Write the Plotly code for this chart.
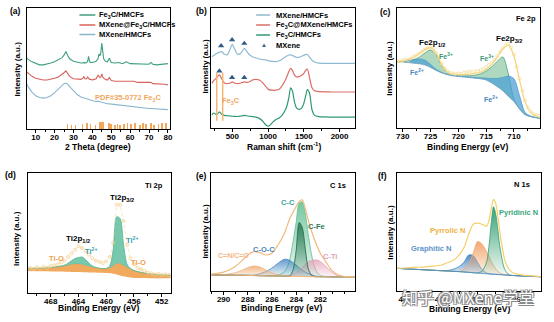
import plotly.graph_objects as go

W, H = 554, 322
FONT = "Liberation Sans, Arial, Helvetica, sans-serif"
CJK = "Noto Sans CJK SC, sans-serif"

# ---------------- (a) XRD ----------------
two_theta = [5, 6, 8, 10, 12, 14, 16, 18, 20, 22,
             24, 25, 26, 27, 28, 30, 32, 34, 35, 35.5,
             36, 37, 37.5, 38, 38.5, 39, 40, 41, 42, 43,
             43.5, 44, 44.5, 45, 45.5, 46, 47, 48, 49, 49.5,
             50, 52, 54, 56, 58, 60, 62, 64, 66, 68,
             70, 71, 72, 74, 76, 78, 80]
xrd_fe3c_hmcfs = [59, 57.5, 55.5, 54, 53, 53, 53.5, 54.5, 55.5, 57,
                  59, 61, 64, 60.5, 58, 56, 55, 54.5, 54.5, 55,
                  54.5, 55, 56, 60, 56, 55, 55, 55.5, 56, 58,
                  62, 60.5, 63, 71, 63, 58, 56, 55.5, 58.5, 56,
                  55, 54.5, 55, 54, 55.5, 54, 54, 53.5, 54, 53.5,
                  53.5, 55, 53.5, 53, 53.5, 54, 54]
xrd_mxene_fe3c_hmcfs = [47.5, 46, 43.5, 42, 41, 40.5, 40.5, 41, 42, 43,
                        45, 46.5, 48, 46, 43.5, 41.5, 41, 41, 42, 43.5,
                        41.5, 41.5, 43, 41.5, 41, 41, 40.5, 41, 41.5, 44.5,
                        43, 42.5, 43, 45.5, 43, 42, 41, 40.5, 42.5, 41,
                        40, 39.5, 39.5, 39, 39.5, 39, 39.5, 38.5, 38.5, 38,
                        38, 38.5, 37.5, 37.5, 37, 37, 36.5]
xrd_mxene_hmcfs = [38, 35, 30.5, 27.5, 26, 25.5, 26, 27.5, 30, 33,
                   36.5, 37.5, 38, 37, 35, 31.5, 28.5, 26.5, 26, 25.5,
                   25, 24.5, 24.3, 24, 23.8, 23.5, 23, 22.8, 22.5, 23,
                   23, 22.5, 22.3, 22, 21.8, 21.5, 21.3, 21, 20.8, 20.6,
                   20.5, 20, 19.7, 19.3, 19, 18.5, 18.2, 17.8, 17.5, 17.2,
                   17, 16.9, 16.8, 16.5, 16.3, 16.1, 16]
pdf_fe3c_pos = [26.7, 28.8, 31, 34.6, 37.2, 38.9, 41.6, 43.9, 44.6, 45.6,
                48.6, 49.8, 51.8, 53.3, 54.7, 56.5, 58.6, 60.5, 62.6, 65.3,
                66.7, 68.4, 70.9, 72.6, 74.9, 76.7, 78.9]
pdf_fe3c_int = [4, 3.5, 3.5, 4, 5, 4, 3.5, 5.5, 5.5, 5.5,
                5, 4.5, 3.5, 4, 3.5, 4, 5, 4, 5, 3.5,
                5, 4, 5, 3.5, 4, 5, 5]

# ---------------- (b) Raman ----------------
raman_shift = [210, 240, 280, 320, 350, 390, 430, 470, 500, 530,
               575, 620, 667, 700, 740, 780, 830, 875, 920, 970,
               1010, 1060, 1110, 1160, 1200, 1250, 1290, 1315, 1340, 1370,
               1400, 1440, 1470, 1500, 1525, 1550, 1580, 1615, 1650, 1710,
               1800, 1900, 2000, 2100, 2222]
raman_mxene_hmcfs = [59.4, 60.5, 62, 63.2, 63.6, 61.5, 61, 66, 69.7, 66,
                     61.4, 62.5, 66.4, 64, 61, 59.4, 58.3, 57.5, 57, 56.7,
                     56, 55.5, 55.3, 56, 57.5, 59.5, 60.8, 61, 60.5, 59.5,
                     58.8, 59, 59.8, 60.6, 61.2, 61.2, 59, 56.5, 55, 54,
                     53.9, 53.9, 53.9, 53.9, 53.9]
raman_fe3c_mxene_hmcfs = [37.2, 39.5, 42, 44.2, 41, 37.5, 37, 37.5, 38.5, 37.5,
                          37, 37.5, 38.5, 38, 38.5, 40, 40.5, 40, 38, 34.5,
                          32, 31.5, 31.5, 32.5, 35.5, 41, 47, 49.7, 48, 44,
                          42.5, 43, 44, 45.5, 48, 49, 42, 33.5, 31, 30.3,
                          30.1, 30, 30, 30, 30]
raman_fe3c_hmcfs = [10.8, 12.5, 11, 13.5, 11.5, 10.5, 10.2, 10, 9.8, 9.7,
                    9.6, 10, 10.5, 10.2, 9.8, 9.5, 9, 8, 6, 2.5,
                    1.5, 4.5, 7, 8.5, 11, 16, 25, 33.5, 31, 21.5,
                    16.5, 15.5, 16.5, 20.5, 26.5, 32, 29, 15, 10.5, 9.5,
                    9.2, 9, 9, 9, 9]
mxene_band_x = [343, 496, 667, 319, 496, 667]
mxene_band_y = [68.5, 73.5, 70.5, 47.5, 42, 42]
fe3c_band_x = [282, 365]

# ---------------- (c) Fe 2p ----------------
fe_be = [731, 730, 729, 728, 727, 726, 725, 724, 723, 722,
         721, 720, 719, 718, 717, 716, 715, 714, 713, 712,
         711, 710, 709, 708, 707, 706, 705.2]
fe_background = [55, 55, 54.5, 54, 53.5, 52.5, 50.5, 48, 46, 44.5,
                 43.5, 43, 42.5, 42, 41.5, 41, 40, 37.5, 34.5, 31,
                 26.5, 22, 16, 11, 9.5, 8.5, 8]
fe_2plus = [55.3, 55.6, 56.2, 57, 57.5, 56.5, 53, 49, 46.3, 44.7,
            43.7, 43.2, 42.8, 42.4, 42, 41.8, 41.5, 41.3, 41.3, 42,
            43.3, 41, 27, 13, 10, 8.8, 8.2]
fe_3plus = [55.3, 55.5, 56, 57, 59, 62.5, 65, 61, 52, 46,
            44.3, 43.7, 43.5, 43.5, 44, 45.2, 47.5, 51, 55.5, 59.2,
            45, 24, 16, 11.5, 9.6, 8.6, 8]
fe_envelope = [55.5, 56, 57, 59, 62, 65.5, 67, 62.5, 53, 47,
               45, 44.5, 44.5, 44.8, 45.5, 46.5, 49, 53, 59, 66,
               69, 60, 40, 22, 13, 10, 9]
fe_raw_be = [731, 730.5, 730, 729.5, 729, 728.5, 728, 727.5, 727, 726.5,
             726, 725.5, 725, 724.5, 724, 723.5, 723, 722.5, 722, 721.5,
             721, 720.5, 720, 719.5, 719, 718.5, 718, 717.5, 717, 716.5,
             716, 715.5, 715, 714.5, 714, 713.5, 713, 712.5, 712, 711.5,
             711, 710.5, 710, 709.5, 709, 708.5, 708, 707.5, 707, 706.5,
             706, 705.5]
fe_raw = [56, 55.5, 56.5, 57, 56.5, 58, 59.5, 60.5, 62, 63.5,
          65.5, 66.5, 67.5, 66, 62.5, 58, 53.5, 50, 47.5, 46,
          45.5, 45, 45.5, 45, 46, 46.5, 47, 46.5, 47, 47.5,
          48, 49.5, 50.5, 52.5, 54.5, 57, 60, 63.5, 66.5, 69,
          70, 67, 61, 51, 41, 31, 23, 17, 14, 12,
          10.5, 10]

# ---------------- (d) Ti 2p ----------------
ti_be = [471.3, 470, 469, 468, 467, 466, 465.5, 465, 464.5, 464,
         463.5, 463, 462.5, 462, 461, 460, 459.5, 459, 458.5, 458,
         457.5, 457, 456.5, 456, 455, 454, 453, 452, 450.7]
ti_background = [18.3, 18.2, 18.1, 18, 17.9, 17.8, 17.7, 17.6, 17.5, 17.4,
                 17.3, 17.2, 17.1, 17, 16.8, 16.6, 16.4, 16, 15.4, 14.6,
                 13.9, 13.3, 12.9, 12.6, 12.4, 12.3, 12.2, 12.2, 12.2]
ti_o = [20.3, 20.4, 20.6, 21, 21.6, 22.5, 23.2, 23.8, 24.2, 24.2,
        23.8, 23, 22.2, 21.4, 20.5, 20.3, 21, 22.5, 24.7, 24.3,
        23, 21.5, 19.8, 18.5, 17, 16, 15.3, 15, 14.7]
ti_2plus = [20.6, 20.7, 20.9, 21.3, 22, 23.3, 24.8, 26.8, 28.7, 29.6,
            30, 28, 25, 22.6, 20.7, 20.5, 22.5, 36, 63.5, 62,
            40, 24, 20.5, 18.8, 17.3, 16.2, 15.5, 15.1, 14.8]
ti_raw_be = [471, 470.5, 470, 469.5, 469, 468.5, 468, 467.5, 467, 466.5,
             466, 465.5, 465, 464.5, 464, 463.5, 463, 462.5, 462, 461.5,
             461, 460.5, 460, 459.5, 459, 458.5, 458, 457.5, 457, 456.5,
             456, 455.5, 455, 454.5, 454, 453.5, 453, 452.5, 452, 451.5,
             451]
ti_raw = [21, 20, 21.5, 20.5, 22, 21, 22.5, 23, 24, 25.5,
          27, 30, 33, 36, 39, 37.5, 35, 32, 29, 27,
          26, 25, 26.5, 30, 42, 73.5, 73.5, 60, 40, 29,
          24, 21, 20, 18.5, 17, 16.5, 15.5, 16, 15, 15.5,
          15]

# ---------------- (e) C 1s ----------------
c_be = [291, 290.5, 290, 289.5, 289, 288.5, 288, 287.5, 287, 286.5,
        286, 285.5, 285, 284.75, 284.5, 284.25, 284, 283.75, 283.5, 283.25,
        283, 282.75, 282.5, 282.25, 282, 281.5, 281, 280.5, 280, 279.5,
        279.1]
c_background = [13.5, 13.5, 13.4, 13.4, 13.3, 13.3, 13.2, 13.1, 13.0, 12.9,
                12.8, 12.7, 12.6, 12.6, 12.5, 12.5, 12.4, 12.4, 12.3, 12.3,
                12.2, 12.2, 12.2, 12.1, 12.1, 12.1, 12.0, 12.0, 12.0, 12.0,
                12.0]
c_cn_co = [13.6, 13.7, 13.9, 14.5, 15.6, 17.5, 19.8, 21.2, 20.3, 17.8,
           15.4, 13.8, 13.0, 12.7, 12.5, 12.5, 12.4, 12.4, 12.3, 12.3,
           12.2, 12.2, 12.2, 12.1, 12.1, 12.1, 12.0, 12.0, 12.0, 12.0,
           12.0]
c_coc = [13.5, 13.5, 13.4, 13.4, 13.3, 13.3, 13.3, 13.5, 14.5, 16.5,
         19.5, 23.5, 26.9, 26.8, 25.8, 24, 22, 19.8, 17.8, 16,
         14.8, 13.8, 13, 12.5, 12.2, 12.1, 12, 12, 12, 12,
         12]
c_cc = [13.5, 13.5, 13.4, 13.4, 13.3, 13.3, 13.2, 13.1, 13.0, 12.9,
        12.9, 13.5, 16, 20, 28, 42, 58, 74.5, 75.5, 66,
        48, 32, 21, 15.5, 13.2, 12.2, 12, 12, 12, 12,
        12]
c_cfe = [13.5, 13.5, 13.4, 13.4, 13.3, 13.3, 13.2, 13.1, 13.0, 12.9,
         12.8, 12.7, 12.6, 12.6, 13, 18, 34, 58, 54, 36,
         19, 13.5, 12.2, 12.1, 12.1, 12.1, 12, 12, 12, 12,
         12]
c_cti = [13.5, 13.5, 13.4, 13.4, 13.3, 13.3, 13.2, 13.1, 13.0, 12.9,
         12.8, 12.7, 12.6, 12.6, 13, 14, 15.5, 17.5, 20, 22.5,
         24.5, 25.8, 26.3, 26.2, 25, 20.5, 15.5, 12.8, 12.1, 12,
         12]
c_envelope = [14.5, 15, 16, 18, 21, 25.5, 30.5, 33.3, 32.5, 30.5,
              32, 39, 48, 55, 62, 67, 71.5, 76, 77.2, 70,
              60, 51.5, 44, 37.5, 32, 24, 17, 13.5, 12.3, 12.1,
              12]

# ---------------- (f) N 1s ----------------
n_be = [408.9, 408, 407, 406, 405, 404, 403.5, 403, 402.5, 402,
        401.5, 401, 400.5, 400, 399.5, 399, 398.75, 398.5, 398.25, 398,
        397.75, 397.5, 397, 396.5, 396, 395, 394, 393]
n_background = [19.2, 18.8, 18.4, 18.0, 17.6, 17.2, 17.0, 16.8, 16.6, 16.4,
                16.1, 15.8, 15.5, 15.2, 14.9, 14.6, 14.5, 14.3, 14.2, 14.1,
                14.0, 13.9, 13.6, 13.3, 13.1, 12.7, 12.4, 12.1]
n_graphitic = [19.2, 18.8, 18.4, 18.0, 17.6, 17.2, 17.3, 17.8, 19, 21,
               24.5, 30.5, 30, 24, 18, 15.2, 14.6, 14.3, 14.2, 14.1,
               14.0, 13.9, 13.6, 13.3, 13.1, 12.7, 12.4, 12.1]
n_pyrrolic = [19.2, 18.8, 18.4, 18.0, 17.6, 17.2, 17.0, 16.8, 16.6, 16.5,
              18.5, 23, 32, 42, 39.5, 33, 29, 25, 21.5, 18.5,
              16.5, 15, 13.8, 13.3, 13.1, 12.7, 12.4, 12.1]
n_pyridinic = [19.2, 18.8, 18.4, 18.0, 17.6, 17.2, 17.0, 16.8, 16.6, 16.4,
               16.1, 15.8, 15.5, 15.3, 17, 25, 38, 58, 71.4, 65,
               50, 35, 18, 13.6, 13.1, 12.7, 12.4, 12.1]
n_envelope = [19.2, 19.5, 20, 20.3, 21, 22, 23.5, 25, 27, 31,
              37, 48, 56.5, 57.5, 56.5, 55, 60, 70, 77.7, 74,
              62, 47, 26, 18, 15, 13.5, 12.8, 12.3]

# ---------------- axes layout ----------------
frames = {1: (26, 170, 8, 129), 2: (212, 357, 8, 128), 3: (399, 543, 8, 128),
          4: (27, 171, 173, 293), 5: (212, 357, 173, 291), 6: (399, 544, 173, 291)}
xranges = {1: [5.3, 81], 2: [208, 2222], 3: [731, 705.3],
           4: [471.3, 450.7], 5: [291, 279.1], 6: [408.9, 393]}
xticks = {1: [10, 20, 30, 40, 50, 60, 70, 80], 2: [500, 1000, 1500, 2000],
          3: [730, 725, 720, 715, 710, 705], 4: [468, 464, 460, 456, 452],
          5: [290, 288, 286, 284, 282], 6: [408, 404, 400, 396]}
minor_step = {1: 5, 2: 250, 3: 2.5, 4: 2, 5: 1, 6: 2}

fig = go.Figure()


def ax(i):
    s = "" if i == 1 else str(i)
    return dict(xaxis="x" + s, yaxis="y" + s)


def curve(i, x, y, color, width=1.2, shape="linear", smoothing=0.8):
    fig.add_trace(go.Scatter(x=x, y=y, mode="lines",
                             line=dict(color=color, width=width, shape=shape, smoothing=smoothing),
                             hoverinfo="skip", showlegend=False, **ax(i)))


def area(i, x, lower, upper, edge, fill=None, gradient=None, width=0.8):
    fig.add_trace(go.Scatter(x=x, y=lower, mode="lines",
                             line=dict(width=0, shape="spline", smoothing=0.8),
                             hoverinfo="skip", showlegend=False, **ax(i)))
    kw = dict(fillcolor=fill) if gradient is None else dict(
        fillgradient=dict(type="vertical", colorscale=gradient))
    fig.add_trace(go.Scatter(x=x, y=upper, mode="lines", fill="tonexty",
                             line=dict(color=edge, width=width, shape="spline", smoothing=0.8),
                             hoverinfo="skip", showlegend=False, **kw, **ax(i)))


def grad(r, g, b, lo=0.08, hi=0.9):
    return [[0, f"rgba({r},{g},{b},{lo})"], [1, f"rgba({r},{g},{b},{hi})"]]


# (a)
GREEN_A, RED_A, BLUE_A, ORANGE = "#3e9f7d", "#d8615c", "#8ab6cf", "#f2a65a"
curve(1, two_theta, xrd_fe3c_hmcfs, GREEN_A, 1.1)
curve(1, two_theta, xrd_mxene_fe3c_hmcfs, RED_A, 1.1)
curve(1, two_theta, xrd_mxene_hmcfs, BLUE_A, 1.1)
fig.add_trace(go.Bar(x=pdf_fe3c_pos, y=pdf_fe3c_int, width=0.35, marker=dict(color=ORANGE, line=dict(width=0)),
                     hoverinfo="skip", showlegend=False, **ax(1)))

# (b)
BLUE_B, RED_B, GREEN_B = "#8dbad0", "#dc6e66", "#2f9a72"
curve(2, raman_shift, raman_mxene_hmcfs, BLUE_B, 1.2, "spline", 0.7)
curve(2, raman_shift, raman_fe3c_mxene_hmcfs, RED_B, 1.2, "spline", 0.7)
curve(2, raman_shift, raman_fe3c_hmcfs, GREEN_B, 1.2, "spline", 0.7)
fig.add_trace(go.Scatter(x=mxene_band_x, y=mxene_band_y, mode="markers",
                         marker=dict(symbol="triangle-up", size=5.5, color="#2e5c87"),
                         hoverinfo="skip", showlegend=False, **ax(2)))

# (c)
area(3, fe_be, fe_background, fe_3plus, "#4e9e78", fill="rgba(108,186,140,0.55)")
area(3, fe_be, fe_background, fe_2plus, "#4d9bd0", fill="rgba(74,158,212,0.72)")
curve(3, fe_be, fe_background, "#6f9fc0", 0.8, "spline")
curve(3, fe_be, fe_envelope, "#f3d27a", 1.2, "spline")
fig.add_trace(go.Scatter(x=fe_raw_be, y=fe_raw, mode="markers",
                         marker=dict(symbol="circle-open", size=3, color="#f5dd95", line=dict(width=0.8)),
                         hoverinfo="skip", showlegend=False, **ax(3)))

# (d)
area(4, ti_be, ti_background, ti_o, "#e99a45", fill="rgba(238,160,75,0.9)")
area(4, ti_be, ti_o, ti_2plus, "#55b48f", fill="rgba(96,190,160,0.85)")
fig.add_trace(go.Scatter(x=ti_raw_be, y=ti_raw, mode="lines+markers",
                         line=dict(color="rgba(246,214,150,0.8)", width=0.8, dash="dot"),
                         marker=dict(symbol="circle-open", size=3, color="#f5cf8e", line=dict(width=0.8)),
                         hoverinfo="skip", showlegend=False, **ax(4)))

# (e)
area(5, c_be, c_background, c_cc, "#5fbf93", gradient=grad(95, 190, 145, 0.12, 0.85))
area(5, c_be, c_background, c_coc, "#4a8ac4", gradient=grad(74, 138, 196, 0.08, 0.85))
area(5, c_be, c_background, c_cti, "#e3a0b8", gradient=grad(227, 160, 184, 0.1, 0.8))
area(5, c_be, c_background, c_cn_co, "#f0b27c", gradient=grad(240, 170, 110, 0.1, 0.85))
area(5, c_be, c_background, c_cfe, "#2d7a57", gradient=grad(45, 122, 87, 0.1, 0.9), width=1)
curve(5, c_be, c_background, "#f2b27a", 1.0, "spline")
curve(5, c_be, c_envelope, "#f2b97a", 1.2, "spline")

# (f)
area(6, n_be, n_background, n_graphitic, "#3f86c6", gradient=grad(63, 134, 198, 0.05, 0.95))
area(6, n_be, n_background, n_pyrrolic, "#f2a46a", gradient=grad(242, 164, 106, 0.05, 0.95))
area(6, n_be, n_background, n_pyridinic, "#2f9e6e", gradient=grad(47, 158, 110, 0.05, 0.95))
curve(6, n_be, n_background, "#5b8fc8", 1.0, "spline")
curve(6, n_be, n_envelope, "#f4cf6a", 1.2, "spline", 0.6)

# ---------------- layout ----------------
tickfont = dict(family=FONT, size=8, color="black", weight="bold")
layout = dict(width=W, height=H, margin=dict(l=0, r=0, t=0, b=0),
              paper_bgcolor="white", plot_bgcolor="white", showlegend=False,
              bargap=0)
for i, (x0, x1, y0, y1) in frames.items():
    s = "" if i == 1 else str(i)
    layout["xaxis" + s] = dict(domain=[x0 / W, x1 / W], range=xranges[i], anchor="y" + s,
                               showline=True, mirror=True, linecolor="black", linewidth=1.2,
                               ticks="outside", ticklen=3, tickwidth=1, tickcolor="black",
                               tickmode="array", tickvals=xticks[i], tickfont=tickfont,
                               ticklabelstandoff=-3,
                               minor=dict(ticks="outside", ticklen=1.8, tickwidth=0.8, tickcolor="black",
                                          tick0=0, dtick=minor_step[i]),
                               showgrid=False, zeroline=False, fixedrange=True)
    layout["yaxis" + s] = dict(domain=[1 - y1 / H, 1 - y0 / H], range=[0, 100], anchor="x" + s,
                               showline=True, mirror=True, linecolor="black", linewidth=1.2,
                               ticks="", showticklabels=False, showgrid=False, zeroline=False,
                               fixedrange=True)


def note(text, x, y, size=8, color="black", bold=True, xanchor="center", angle=0, family=FONT, **extra):
    f = dict(family=family, size=size, color=color, weight="bold" if bold else "normal")
    f.update(extra)
    return dict(text=text, x=x / W, y=1 - y / H, xref="paper", yref="paper", showarrow=False,
                font=f, xanchor=xanchor, yanchor="middle", textangle=angle)


ann = []
# panel letters
for lab, x, y in [("(a)", 15, 11), ("(b)", 202, 11), ("(c)", 387, 12),
                  ("(d)", 10, 175), ("(e)", 202, 176), ("(f)", 384, 176)]:
    ann.append(note(lab, x, y, 8.5))
# y titles
for x, y in [(16.5, 69), (205, 66), (391.5, 68), (16, 238), (205, 231), (391.5, 232)]:
    ann.append(note("Intensity (a.u.)", x, y, 8, angle=-90))
# x titles
for t, x, y in [("2 Theta (degree)", 98, 147), ("Raman shift (cm<sup>-1</sup>)", 285, 146.5),
                ("Binding Energy (eV)", 470, 147), ("Binding Energy (eV)", 98, 308),
                ("Binding Energy (eV)", 283, 307.5), ("Binding Energy (eV)", 472, 308.5)]:
    ann.append(note(t, x, y, 8.5))

# legend (a)
shapes = []
for name, color, y in [("Fe<sub>3</sub>C/HMCFs", GREEN_A, 15), ("MXene@Fe<sub>3</sub>C/HMCFs", RED_A, 25),
                       ("MXene/HMCFs", BLUE_A, 34.5)]:
    shapes.append(dict(type="line", xref="paper", yref="paper", x0=79 / W, x1=95 / W,
                       y0=1 - y / H, y1=1 - y / H, line=dict(color=color, width=1.5)))
    ann.append(note(name, 97, y, 7.5, xanchor="left"))
ann.append(note("PDF#35-0772 Fe<sub>3</sub>C", 128, 98, 7.5, ORANGE))

# legend (b)
for name, color, y in [("MXene/HMCFs", BLUE_B, 15), ("Fe<sub>3</sub>C@MXene/HMCFs", RED_B, 25),
                       ("Fe<sub>3</sub>C/HMCFs", GREEN_B, 35)]:
    shapes.append(dict(type="line", xref="paper", yref="paper", x0=257 / W, x1=271 / W,
                       y0=1 - y / H, y1=1 - y / H, line=dict(color=color, width=1.5)))
    ann.append(note(name, 275, y, 7.5, xanchor="left"))
ann.append(note("▲", 264.5, 45.5, 6, "#2e5c87", bold=False))
ann.append(note("MXene", 275, 46, 7.5, xanchor="left"))
for b in fe3c_band_x:
    shapes.append(dict(type="line", xref="x2", yref="y2", x0=b, x1=b, y0=6, y1=46,
                       line=dict(color="#f5b26b", width=1.4)))
ann.append(note("Fe<sub>3</sub>C", 232, 101, 7.5, ORANGE))

# (c) labels
BLUE_L, GREEN_L = "#4b86c0", "#3d9a78"
ann += [note("Fe 2p", 541, 18, 7.5, xanchor="right"), note("Fe2p<sub>1/2</sub>", 434, 43, 8),
        note("Fe2p<sub>3/2</sub>", 512, 39, 8),
        note("Fe<sup>3+</sup>", 448, 56, 7, GREEN_L), note("Fe<sup>2+</sup>", 419, 72.5, 7, BLUE_L),
        note("Fe<sup>3+</sup>", 489.5, 57.5, 7, GREEN_L), note("Fe<sup>2+</sup>", 493.5, 98.5, 7, BLUE_L)]

# (d) labels
TEAL_L, ORANGE_L = "#3b9fae", "#f0a050"
ann += [note("Ti 2p", 165, 185, 7.5, xanchor="right"), note("Ti2p<sub>3/2</sub>", 122, 198, 8),
        note("Ti2p<sub>1/2</sub>", 78, 239, 8),
        note("Ti-O", 56, 258.5, 7.5, ORANGE_L), note("Ti<sup>2+</sup>", 91.5, 251, 7.5, TEAL_L),
        note("Ti<sup>2+</sup>", 132, 240, 7.5, TEAL_L), note("Ti-O", 138.5, 262.5, 7.5, ORANGE_L)]

# (e) labels
ann += [note("C 1s", 350, 185, 7.5, xanchor="right"), note("C-C", 289.5, 202.5, 7.5, "#3aa39a"),
        note("C-Fe", 318, 226, 7.5, "#2d7a57"), note("C-O-C", 265, 249, 7.5, "#4a86c0"),
        note("C=N/C=O", 234, 255, 7, "#f2b888"), note("C-Ti", 331, 256.5, 7.5, "#e3a1b8")]

# (f) labels
ann += [note("N 1s", 535, 184, 7.5, xanchor="right"), note("Pyridinic N", 521.5, 212.5, 7.5, "#3aa57a"),
        note("Pyrrolic N", 450, 230, 7.5, "#f0b040"), note("Graphitic N", 433, 248.5, 7.5, "#5b93c9")]

# source credit
ann.append(note("知乎 @MXene学堂", 470, 297, 16, "white", bold=False, family=CJK,
                shadow="1px 1px 0 #8a8a8a, -1px -1px 0 #8a8a8a, 1px -1px 0 #8a8a8a, -1px 1px 0 #8a8a8a"))

layout["annotations"] = ann
layout["shapes"] = shapes
fig.update_layout(**layout)
fig.write_html("out.html")
